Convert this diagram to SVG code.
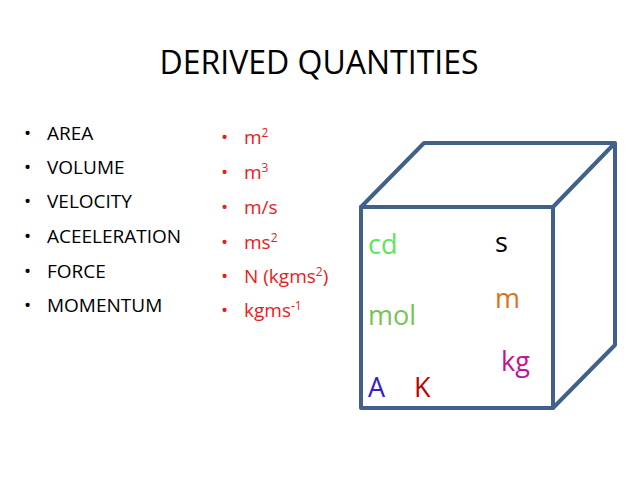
<svg xmlns="http://www.w3.org/2000/svg" width="638" height="478" viewBox="0 0 638 478">
<style>
text{font-family:"Open Sans","Liberation Sans",sans-serif}
.l{font-size:19px;fill:#000}
.r{font-size:19px;fill:#e8201c}
.c{font-size:27px}
.e{fill:none;stroke:#41618c;stroke-width:4;stroke-linejoin:round}
</style>
<rect width="638" height="478" fill="#fff"/>
<g id="title"><text x="319" y="74" font-size="32" text-anchor="middle">DERIVED QUANTITIES</text></g>
<g id="left">
<text class="l" x="24" y="140">•</text><text class="l" x="47" y="140">AREA</text>
<text class="l" x="24" y="174">•</text><text class="l" x="47" y="174">VOLUME</text>
<text class="l" x="24" y="208">•</text><text class="l" x="47" y="208">VELOCITY</text>
<text class="l" x="24" y="243">•</text><text class="l" x="47" y="243">ACEELERATION</text>
<text class="l" x="24" y="278">•</text><text class="l" x="47" y="278">FORCE</text>
<text class="l" x="24" y="312">•</text><text class="l" x="47" y="312">MOMENTUM</text>
</g>
<g id="right">
<text class="r" x="221" y="144">•</text><text class="r" x="244" y="144">m<tspan font-size="12" dy="-7">2</tspan></text>
<text class="r" x="221" y="179">•</text><text class="r" x="244" y="179">m<tspan font-size="12" dy="-7">3</tspan></text>
<text class="r" x="221" y="214">•</text><text class="r" x="244" y="214">m/s</text>
<text class="r" x="221" y="249">•</text><text class="r" x="244" y="249">ms<tspan font-size="12" dy="-7">2</tspan></text>
<text class="r" x="221" y="283">•</text><text class="r" x="244" y="283">N (kgms<tspan font-size="12" dy="-7">2</tspan><tspan dy="7">)</tspan></text>
<text class="r" x="221" y="317">•</text><text class="r" x="244" y="317">kgms<tspan font-size="12" dy="-7">-1</tspan></text>
</g>
<g id="cube">
<path class="e" d="M361 207 L424 143 L615 143 L553 207 Z M553 207 L615 143 L615 345 L553 408 Z"/>
<rect class="e" x="361" y="207" width="192" height="201"/>
</g>
<g id="units">
<text class="c" x="368" y="254" fill="#5ee65a">cd</text>
<text class="c" x="368" y="325" fill="#77c35a">mol</text>
<text class="c" x="368" y="397" fill="#3a1ec0">A</text>
<text class="c" x="414" y="397" fill="#c00000">K</text>
<text class="c" x="495" y="252" fill="#000">s</text>
<text class="c" x="495" y="308" fill="#e0701c">m</text>
<text class="c" x="501" y="371" fill="#c0149a">kg</text>
</g>
</svg>
